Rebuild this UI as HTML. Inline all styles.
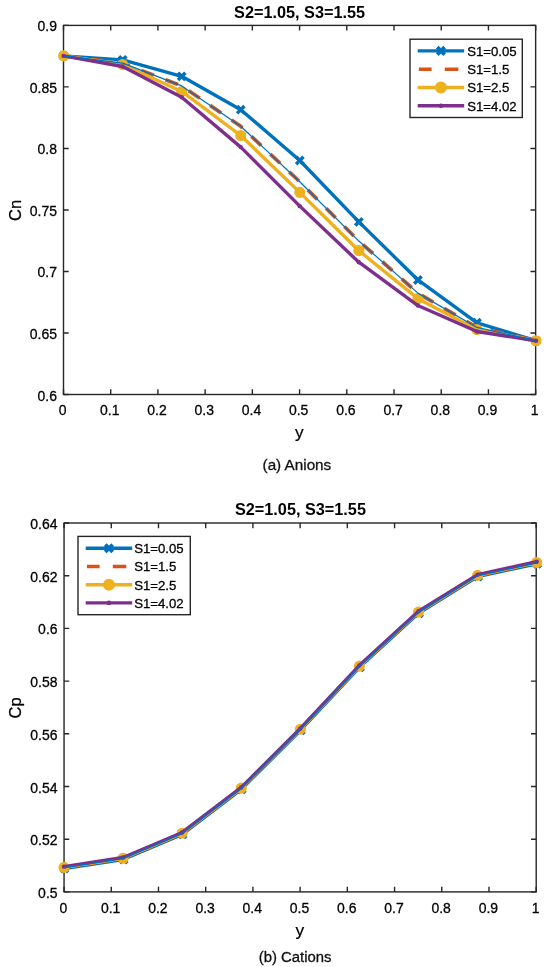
<!DOCTYPE html>
<html><head><meta charset="utf-8"><title>Figure</title>
<style>
html,body{margin:0;padding:0;background:#fff}
svg{display:block}
text{font-family:"Liberation Sans",sans-serif;fill:#000}
.tk{font-size:15.2px;stroke:#000;stroke-width:0.3px}
.lg{font-size:13.2px;stroke:#000;stroke-width:0.3px}
.ti{font-size:16.25px;font-weight:bold}
.lb{font-size:17.0px;stroke:#000;stroke-width:0.3px}
.xl{font-size:17.3px;stroke:#000;stroke-width:0.2px}
.cp{font-size:15.25px;fill:#111;stroke:#111;stroke-width:0.3px}
</style></head><body>
<svg width="551" height="967" viewBox="0 0 551 967">
<rect width="551" height="967" fill="#fff"/>
<rect x="63.5" y="25.4" width="472.15" height="369.1" fill="none" stroke="#262626" stroke-width="1.4"/>
<path d="M63.50 394.5v-5.2M63.50 25.4v5.2" stroke="#262626" stroke-width="1.4"/>
<text transform="translate(62.60 414.80) scale(0.92 1)" text-anchor="middle" class="tk">0</text>
<path d="M110.72 394.5v-5.2M110.72 25.4v5.2" stroke="#262626" stroke-width="1.4"/>
<text transform="translate(109.81 414.80) scale(0.92 1)" text-anchor="middle" class="tk">0.1</text>
<path d="M157.93 394.5v-5.2M157.93 25.4v5.2" stroke="#262626" stroke-width="1.4"/>
<text transform="translate(157.03 414.80) scale(0.92 1)" text-anchor="middle" class="tk">0.2</text>
<path d="M205.14 394.5v-5.2M205.14 25.4v5.2" stroke="#262626" stroke-width="1.4"/>
<text transform="translate(204.24 414.80) scale(0.92 1)" text-anchor="middle" class="tk">0.3</text>
<path d="M252.36 394.5v-5.2M252.36 25.4v5.2" stroke="#262626" stroke-width="1.4"/>
<text transform="translate(251.46 414.80) scale(0.92 1)" text-anchor="middle" class="tk">0.4</text>
<path d="M299.57 394.5v-5.2M299.57 25.4v5.2" stroke="#262626" stroke-width="1.4"/>
<text transform="translate(298.68 414.80) scale(0.92 1)" text-anchor="middle" class="tk">0.5</text>
<path d="M346.79 394.5v-5.2M346.79 25.4v5.2" stroke="#262626" stroke-width="1.4"/>
<text transform="translate(345.89 414.80) scale(0.92 1)" text-anchor="middle" class="tk">0.6</text>
<path d="M394.00 394.5v-5.2M394.00 25.4v5.2" stroke="#262626" stroke-width="1.4"/>
<text transform="translate(393.10 414.80) scale(0.92 1)" text-anchor="middle" class="tk">0.7</text>
<path d="M441.22 394.5v-5.2M441.22 25.4v5.2" stroke="#262626" stroke-width="1.4"/>
<text transform="translate(440.32 414.80) scale(0.92 1)" text-anchor="middle" class="tk">0.8</text>
<path d="M488.44 394.5v-5.2M488.44 25.4v5.2" stroke="#262626" stroke-width="1.4"/>
<text transform="translate(487.54 414.80) scale(0.92 1)" text-anchor="middle" class="tk">0.9</text>
<path d="M535.65 394.5v-5.2M535.65 25.4v5.2" stroke="#262626" stroke-width="1.4"/>
<text transform="translate(534.75 414.80) scale(0.92 1)" text-anchor="middle" class="tk">1</text>
<path d="M63.5 394.50h5.2M535.65 394.50h-5.2" stroke="#262626" stroke-width="1.4"/>
<text transform="translate(57.00 400.50) scale(0.92 1)" text-anchor="end" class="tk">0.6</text>
<path d="M63.5 332.98h5.2M535.65 332.98h-5.2" stroke="#262626" stroke-width="1.4"/>
<text transform="translate(57.00 338.98) scale(0.92 1)" text-anchor="end" class="tk">0.65</text>
<path d="M63.5 271.47h5.2M535.65 271.47h-5.2" stroke="#262626" stroke-width="1.4"/>
<text transform="translate(57.00 277.47) scale(0.92 1)" text-anchor="end" class="tk">0.7</text>
<path d="M63.5 209.95h5.2M535.65 209.95h-5.2" stroke="#262626" stroke-width="1.4"/>
<text transform="translate(57.00 215.95) scale(0.92 1)" text-anchor="end" class="tk">0.75</text>
<path d="M63.5 148.43h5.2M535.65 148.43h-5.2" stroke="#262626" stroke-width="1.4"/>
<text transform="translate(57.00 154.43) scale(0.92 1)" text-anchor="end" class="tk">0.8</text>
<path d="M63.5 86.92h5.2M535.65 86.92h-5.2" stroke="#262626" stroke-width="1.4"/>
<text transform="translate(57.00 92.92) scale(0.92 1)" text-anchor="end" class="tk">0.85</text>
<path d="M63.5 25.40h5.2M535.65 25.40h-5.2" stroke="#262626" stroke-width="1.4"/>
<text transform="translate(57.00 31.40) scale(0.92 1)" text-anchor="end" class="tk">0.9</text>
<text x="299.57" y="17.5" text-anchor="middle" class="ti">S2=1.05, S3=1.55</text>
<text x="299.27" y="438.2" text-anchor="middle" class="xl">y</text>
<text transform="translate(21 210.45) rotate(-90) scale(0.97 1)" text-anchor="middle" class="lb">Cn</text>
<text x="296.9" y="470" text-anchor="middle" class="cp" style="font-size:15.25px">(a) Anions</text>
<polyline points="63.60,55.91 122.65,59.85 181.70,76.34 240.75,109.68 299.80,160.49 358.85,221.88 417.90,279.96 476.95,322.77 536.00,340.73" fill="none" stroke="#0072BD" stroke-width="3.4" stroke-linejoin="round"/>
<path d="M59.90 52.21L67.30 59.61M59.90 59.61L67.30 52.21" stroke="#0072BD" stroke-width="3.5" fill="none"/>
<path d="M118.95 56.15L126.35 63.55M118.95 63.55L126.35 56.15" stroke="#0072BD" stroke-width="3.5" fill="none"/>
<path d="M178.00 72.64L185.40 80.04M178.00 80.04L185.40 72.64" stroke="#0072BD" stroke-width="3.5" fill="none"/>
<path d="M237.05 105.98L244.45 113.38M237.05 113.38L244.45 105.98" stroke="#0072BD" stroke-width="3.5" fill="none"/>
<path d="M296.10 156.79L303.50 164.19M296.10 164.19L303.50 156.79" stroke="#0072BD" stroke-width="3.5" fill="none"/>
<path d="M355.15 218.18L362.55 225.58M355.15 225.58L362.55 218.18" stroke="#0072BD" stroke-width="3.5" fill="none"/>
<path d="M414.20 276.26L421.60 283.66M414.20 283.66L421.60 276.26" stroke="#0072BD" stroke-width="3.5" fill="none"/>
<path d="M473.25 319.07L480.65 326.47M473.25 326.47L480.65 319.07" stroke="#0072BD" stroke-width="3.5" fill="none"/>
<path d="M532.30 337.03L539.70 344.43M532.30 344.43L539.70 337.03" stroke="#0072BD" stroke-width="3.5" fill="none"/>
<polyline points="63.60,55.91 122.65,63.17 181.70,85.93 240.75,126.29 299.80,181.78 358.85,241.08 417.90,293.12 476.95,327.45 536.00,340.73" fill="none" stroke="#D95319" stroke-width="3.7" stroke-dasharray="13.4 12.5" stroke-dashoffset="-1.8" stroke-linejoin="round"/>
<polyline points="63.60,55.91 122.65,64.52 181.70,91.47 240.75,135.51 299.80,192.36 358.85,250.67 417.90,298.66 476.95,329.54 536.00,340.73" fill="none" stroke="#EDB120" stroke-width="3.4" stroke-linejoin="round"/>
<circle cx="63.60" cy="55.91" r="5.55" fill="#EDB120"/>
<circle cx="122.65" cy="64.52" r="5.55" fill="#EDB120"/>
<circle cx="181.70" cy="91.47" r="5.55" fill="#EDB120"/>
<circle cx="240.75" cy="135.51" r="5.55" fill="#EDB120"/>
<circle cx="299.80" cy="192.36" r="5.55" fill="#EDB120"/>
<circle cx="358.85" cy="250.67" r="5.55" fill="#EDB120"/>
<circle cx="417.90" cy="298.66" r="5.55" fill="#EDB120"/>
<circle cx="476.95" cy="329.54" r="5.55" fill="#EDB120"/>
<circle cx="536.00" cy="340.73" r="5.55" fill="#EDB120"/>
<polyline points="63.60,55.91 122.65,66.49 181.70,97.25 240.75,147.08 299.80,206.14 358.85,262.24 417.90,305.55 476.95,331.51 536.00,340.73" fill="none" stroke="#7E2F8E" stroke-width="3.4" stroke-linejoin="round"/>
<circle cx="63.60" cy="55.91" r="2.2" fill="#7E2F8E"/>
<circle cx="122.65" cy="66.49" r="2.2" fill="#7E2F8E"/>
<circle cx="181.70" cy="97.25" r="2.2" fill="#7E2F8E"/>
<circle cx="240.75" cy="147.08" r="2.2" fill="#7E2F8E"/>
<circle cx="299.80" cy="206.14" r="2.2" fill="#7E2F8E"/>
<circle cx="358.85" cy="262.24" r="2.2" fill="#7E2F8E"/>
<circle cx="417.90" cy="305.55" r="2.2" fill="#7E2F8E"/>
<circle cx="476.95" cy="331.51" r="2.2" fill="#7E2F8E"/>
<circle cx="536.00" cy="340.73" r="2.2" fill="#7E2F8E"/>
<polyline points="63.60,55.91 122.65,63.17 181.70,85.93 240.75,126.29 299.80,181.78 358.85,241.08 417.90,293.12 476.95,327.45 536.00,340.73" fill="none" stroke="#0072BD" stroke-width="1.25" stroke-linejoin="round"/>
<rect x="410" y="39.2" width="112.3" height="78.3" fill="#fff" stroke="#262626" stroke-width="1.4"/>
<path d="M417.7 50.900000000000006H464.2" stroke="#0072BD" stroke-width="3.4"/>
<path d="M437.25 47.2L444.65 54.60000000000001M437.25 54.60000000000001L444.65 47.2" stroke="#0072BD" stroke-width="3.8"/>
<path d="M418.9 69.2h12.7M444.8 69.2h13.5" stroke="#D95319" stroke-width="3.6"/>
<path d="M417.7 87.5H464.2" stroke="#EDB120" stroke-width="3.4"/>
<circle cx="440.95" cy="87.5" r="6" fill="#EDB120"/>
<path d="M417.7 105.80000000000001H464.2" stroke="#7E2F8E" stroke-width="3.4"/>
<circle cx="440.95" cy="105.80000000000001" r="2.4" fill="#7E2F8E"/>
<text x="467.2" y="55.800000000000004" class="lg">S1=0.05</text>
<text x="467.2" y="74.10000000000001" class="lg">S1=1.5</text>
<text x="467.2" y="92.4" class="lg">S1=2.5</text>
<text x="467.2" y="110.70000000000002" class="lg">S1=4.02</text>
<rect x="64.05" y="523.0" width="472.15000000000003" height="368.9" fill="none" stroke="#262626" stroke-width="1.4"/>
<path d="M64.05 891.9v-5.2M64.05 523.0v5.2" stroke="#262626" stroke-width="1.4"/>
<text transform="translate(63.45 913.20) scale(0.92 1)" text-anchor="middle" class="tk">0</text>
<path d="M111.27 891.9v-5.2M111.27 523.0v5.2" stroke="#262626" stroke-width="1.4"/>
<text transform="translate(110.67 913.20) scale(0.92 1)" text-anchor="middle" class="tk">0.1</text>
<path d="M158.48 891.9v-5.2M158.48 523.0v5.2" stroke="#262626" stroke-width="1.4"/>
<text transform="translate(157.88 913.20) scale(0.92 1)" text-anchor="middle" class="tk">0.2</text>
<path d="M205.69 891.9v-5.2M205.69 523.0v5.2" stroke="#262626" stroke-width="1.4"/>
<text transform="translate(205.09 913.20) scale(0.92 1)" text-anchor="middle" class="tk">0.3</text>
<path d="M252.91 891.9v-5.2M252.91 523.0v5.2" stroke="#262626" stroke-width="1.4"/>
<text transform="translate(252.31 913.20) scale(0.92 1)" text-anchor="middle" class="tk">0.4</text>
<path d="M300.12 891.9v-5.2M300.12 523.0v5.2" stroke="#262626" stroke-width="1.4"/>
<text transform="translate(299.52 913.20) scale(0.92 1)" text-anchor="middle" class="tk">0.5</text>
<path d="M347.34 891.9v-5.2M347.34 523.0v5.2" stroke="#262626" stroke-width="1.4"/>
<text transform="translate(346.74 913.20) scale(0.92 1)" text-anchor="middle" class="tk">0.6</text>
<path d="M394.56 891.9v-5.2M394.56 523.0v5.2" stroke="#262626" stroke-width="1.4"/>
<text transform="translate(393.95 913.20) scale(0.92 1)" text-anchor="middle" class="tk">0.7</text>
<path d="M441.77 891.9v-5.2M441.77 523.0v5.2" stroke="#262626" stroke-width="1.4"/>
<text transform="translate(441.17 913.20) scale(0.92 1)" text-anchor="middle" class="tk">0.8</text>
<path d="M488.99 891.9v-5.2M488.99 523.0v5.2" stroke="#262626" stroke-width="1.4"/>
<text transform="translate(488.39 913.20) scale(0.92 1)" text-anchor="middle" class="tk">0.9</text>
<path d="M536.20 891.9v-5.2M536.20 523.0v5.2" stroke="#262626" stroke-width="1.4"/>
<text transform="translate(535.60 913.20) scale(0.92 1)" text-anchor="middle" class="tk">1</text>
<path d="M64.05 891.90h5.2M536.2 891.90h-5.2" stroke="#262626" stroke-width="1.4"/>
<text transform="translate(57.55 897.90) scale(0.92 1)" text-anchor="end" class="tk">0.5</text>
<path d="M64.05 839.20h5.2M536.2 839.20h-5.2" stroke="#262626" stroke-width="1.4"/>
<text transform="translate(57.55 845.20) scale(0.92 1)" text-anchor="end" class="tk">0.52</text>
<path d="M64.05 786.50h5.2M536.2 786.50h-5.2" stroke="#262626" stroke-width="1.4"/>
<text transform="translate(57.55 792.50) scale(0.92 1)" text-anchor="end" class="tk">0.54</text>
<path d="M64.05 733.80h5.2M536.2 733.80h-5.2" stroke="#262626" stroke-width="1.4"/>
<text transform="translate(57.55 739.80) scale(0.92 1)" text-anchor="end" class="tk">0.56</text>
<path d="M64.05 681.10h5.2M536.2 681.10h-5.2" stroke="#262626" stroke-width="1.4"/>
<text transform="translate(57.55 687.10) scale(0.92 1)" text-anchor="end" class="tk">0.58</text>
<path d="M64.05 628.40h5.2M536.2 628.40h-5.2" stroke="#262626" stroke-width="1.4"/>
<text transform="translate(57.55 634.40) scale(0.92 1)" text-anchor="end" class="tk">0.6</text>
<path d="M64.05 575.70h5.2M536.2 575.70h-5.2" stroke="#262626" stroke-width="1.4"/>
<text transform="translate(57.55 581.70) scale(0.92 1)" text-anchor="end" class="tk">0.62</text>
<path d="M64.05 523.00h5.2M536.2 523.00h-5.2" stroke="#262626" stroke-width="1.4"/>
<text transform="translate(57.55 529.00) scale(0.92 1)" text-anchor="end" class="tk">0.64</text>
<text x="300.43" y="514.9" text-anchor="middle" class="ti">S2=1.05, S3=1.55</text>
<text x="299.82" y="935.6" text-anchor="middle" class="xl">y</text>
<text transform="translate(21.1 707.95) rotate(-90) scale(0.97 1)" text-anchor="middle" class="lb">Cp</text>
<text x="295.1" y="962.4" text-anchor="middle" class="cp" style="font-size:14.9px">(b) Cations</text>
<polyline points="64.00,868.63 123.09,859.52 182.18,834.43 241.26,789.37 300.35,730.43 359.44,667.32 418.53,613.22 477.61,576.62 536.70,563.74" fill="none" stroke="#0072BD" stroke-width="3.4" stroke-linejoin="round"/>
<path d="M60.80 864.93L68.20 872.33M60.80 872.33L68.20 864.93" stroke="#0072BD" stroke-width="3.5" fill="none"/>
<path d="M119.89 855.82L127.29 863.22M119.89 863.22L127.29 855.82" stroke="#0072BD" stroke-width="3.5" fill="none"/>
<path d="M178.98 830.73L186.38 838.13M178.98 838.13L186.38 830.73" stroke="#0072BD" stroke-width="3.5" fill="none"/>
<path d="M238.06 785.67L245.46 793.07M238.06 793.07L245.46 785.67" stroke="#0072BD" stroke-width="3.5" fill="none"/>
<path d="M297.15 726.73L304.55 734.13M297.15 734.13L304.55 726.73" stroke="#0072BD" stroke-width="3.5" fill="none"/>
<path d="M356.24 663.62L363.64 671.02M356.24 671.02L363.64 663.62" stroke="#0072BD" stroke-width="3.5" fill="none"/>
<path d="M415.33 609.52L422.73 616.92M415.33 616.92L422.73 609.52" stroke="#0072BD" stroke-width="3.5" fill="none"/>
<path d="M474.41 572.92L481.81 580.32M474.41 580.32L481.81 572.92" stroke="#0072BD" stroke-width="3.5" fill="none"/>
<path d="M533.50 560.04L540.90 567.44M533.50 567.44L540.90 560.04" stroke="#0072BD" stroke-width="3.5" fill="none"/>
<polyline points="64.00,867.53 123.09,858.41 182.18,833.32 241.26,788.27 300.35,729.32 359.44,666.21 418.53,612.12 477.61,575.52 536.70,562.63" fill="none" stroke="#D95319" stroke-width="3.7" stroke-dasharray="13.4 12.5" stroke-dashoffset="0" stroke-linejoin="round"/>
<polyline points="64.00,867.39 123.09,858.28 182.18,833.19 241.26,788.13 300.35,729.19 359.44,666.08 418.53,611.98 477.61,575.38 536.70,562.50" fill="none" stroke="#EDB120" stroke-width="3.4" stroke-linejoin="round"/>
<circle cx="64.00" cy="867.39" r="5.55" fill="#EDB120"/>
<circle cx="123.09" cy="858.28" r="5.55" fill="#EDB120"/>
<circle cx="182.18" cy="833.19" r="5.55" fill="#EDB120"/>
<circle cx="241.26" cy="788.13" r="5.55" fill="#EDB120"/>
<circle cx="300.35" cy="729.19" r="5.55" fill="#EDB120"/>
<circle cx="359.44" cy="666.08" r="5.55" fill="#EDB120"/>
<circle cx="418.53" cy="611.98" r="5.55" fill="#EDB120"/>
<circle cx="477.61" cy="575.38" r="5.55" fill="#EDB120"/>
<circle cx="536.70" cy="562.50" r="5.55" fill="#EDB120"/>
<polyline points="64.00,866.66 123.09,857.54 182.18,832.45 241.26,787.40 300.35,728.45 359.44,665.34 418.53,611.25 477.61,574.65 536.70,561.76" fill="none" stroke="#7E2F8E" stroke-width="3.4" stroke-linejoin="round"/>
<circle cx="64.00" cy="866.66" r="2.2" fill="#7E2F8E"/>
<circle cx="123.09" cy="857.54" r="2.2" fill="#7E2F8E"/>
<circle cx="182.18" cy="832.45" r="2.2" fill="#7E2F8E"/>
<circle cx="241.26" cy="787.40" r="2.2" fill="#7E2F8E"/>
<circle cx="300.35" cy="728.45" r="2.2" fill="#7E2F8E"/>
<circle cx="359.44" cy="665.34" r="2.2" fill="#7E2F8E"/>
<circle cx="418.53" cy="611.25" r="2.2" fill="#7E2F8E"/>
<circle cx="477.61" cy="574.65" r="2.2" fill="#7E2F8E"/>
<circle cx="536.70" cy="561.76" r="2.2" fill="#7E2F8E"/>
<polyline points="64.00,867.53 123.09,858.41 182.18,833.32 241.26,788.27 300.35,729.32 359.44,666.21 418.53,612.12 477.61,575.52 536.70,562.63" fill="none" stroke="#0072BD" stroke-width="1.3" stroke-linejoin="round"/>
<rect x="78" y="536.4" width="112.3" height="78.3" fill="#fff" stroke="#262626" stroke-width="1.4"/>
<path d="M85.7 548.3H132.2" stroke="#0072BD" stroke-width="3.4"/>
<path d="M105.24999999999999 544.5999999999999L112.64999999999999 552.0M105.24999999999999 552.0L112.64999999999999 544.5999999999999" stroke="#0072BD" stroke-width="3.8"/>
<path d="M86.9 566.5h12.7M112.8 566.5h13.5" stroke="#D95319" stroke-width="3.6"/>
<path d="M85.7 584.6999999999999H132.2" stroke="#EDB120" stroke-width="3.4"/>
<circle cx="108.94999999999999" cy="584.6999999999999" r="6" fill="#EDB120"/>
<path d="M85.7 602.9H132.2" stroke="#7E2F8E" stroke-width="3.4"/>
<circle cx="108.94999999999999" cy="602.9" r="2.4" fill="#7E2F8E"/>
<text x="134.2" y="553.1999999999999" class="lg">S1=0.05</text>
<text x="134.2" y="571.4" class="lg">S1=1.5</text>
<text x="134.2" y="589.5999999999999" class="lg">S1=2.5</text>
<text x="134.2" y="607.8" class="lg">S1=4.02</text>
</svg>
</body></html>
